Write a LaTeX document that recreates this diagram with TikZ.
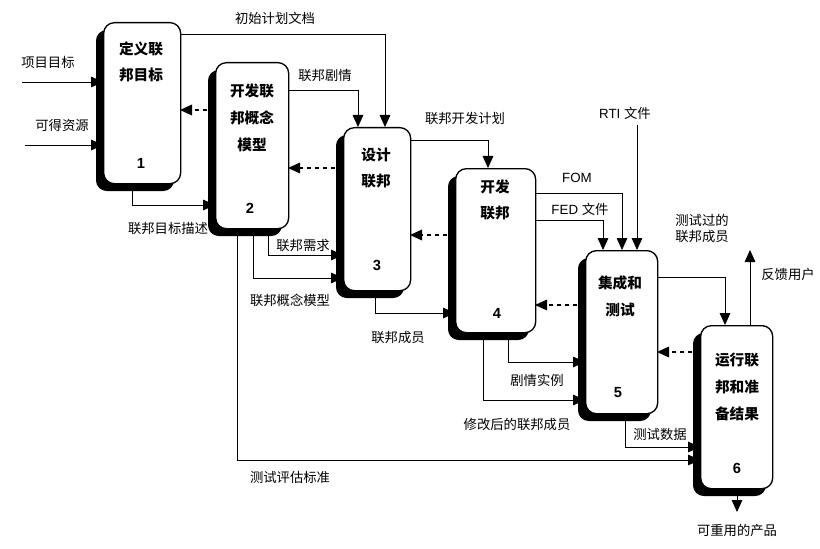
\documentclass[tikz,border=0pt]{standalone}
\usepackage{fontspec}
\setmainfont{Liberation Sans}
\newfontfamily\cjk{Noto Sans CJK SC}
\usetikzlibrary{arrows.meta}
\begin{document}
\begin{tikzpicture}[x=0.75pt,y=-0.75pt,
  box/.style={draw,line width=1pt,rounded corners=8pt,fill=white},
  shad/.style={fill=black,rounded corners=8pt},
  flow/.style={draw,line width=0.6pt,-{Triangle[length=9pt,width=8pt]}},
  back/.style={flow,dashed,line width=0.9pt},
  lab/.style={font=\cjk\fontsize{10}{12}\selectfont,inner sep=1pt},
  title/.style={font=\cjk\bfseries\fontsize{11}{20}\selectfont,align=center},
  num/.style={font=\bfseries\fontsize{11}{12}\selectfont}]
\useasboundingbox (0,0) rectangle (820,549);
% shadows and boxes
\foreach \n/\a/\b/\c/\d in {1/103/22/180/183, 2/215/62/288/228, 3/343/127/410/290, 4/455/168/535/332, 5/585/250/657/413, 6/700/325/772/488}{
  \fill[shad] (\a-7,\b+8) rectangle (\c-6,\d+8);
  \node[box,minimum width={(\c-\a)*0.75pt},minimum height={(\d-\b)*0.75pt},anchor=north west] (b\n) at (\a,\b) {};
}
\node[title] (t1) at (141,62) {定义联\\邦目标};
\node[num] (n1) at (141,163) {1};
\node[title] (t2) at (252,118) {开发联\\邦概念\\模型};
\node[num] (n2) at (250,208) {2};
\node[title] (t3) at (376,168) {设计\\联邦};
\node[num] (n3) at (377,265) {3};
\node[title] (t4) at (495,200) {开发\\联邦};
\node[num] (n4) at (497,313) {4};
\node[title] (t5) at (620,296) {集成和\\测试};
\node[num] (n5) at (618,393) {5};
\node[title] (t6) at (737,387) {运行联\\邦和准\\备结果};
\node[num] (n6) at (737,468) {6};
% inputs
\coordinate (i1) at (22,82);
\coordinate (i2) at (25,145);
\draw[flow] (i1) -- (i1 -| b1.west);
\draw[flow] (i2) -- (i2 -| b1.west);
\node[lab] (l1) at (48,62) {项目目标};
\node[lab] (l2) at (62,125) {可得资源};
% 1 -> 3
\coordinate (c13) at (180,34);
\draw[flow] (c13) -| (385,127);
\node[lab] (l3) at (275,18) {初始计划文档};
\coordinate (c23) at (288,90);
\draw[flow] (c23) -| (358,127);
\node[lab] (l4) at (325,75) {联邦剧情};
% dashed feedback
\draw[back] (215,110) -- (180,110);
\draw[back] (343,168) -- (288,168);
\draw[back] (455,235) -- (410,235);
\draw[back] (585,305) -- (535,305);
\draw[back] (700,352) -- (657,352);
% 1 -> 2
\draw[flow] (132,183) |- (215,205);
\node[lab] (l5) at (168,228) {联邦目标描述};
% 2 -> 3
\draw[flow] (268,228) |- (343,255);
\node[lab] (l6) at (303,245) {联邦需求};
\draw[flow] (253,228) |- (343,278);
\node[lab] (l7) at (290,300) {联邦概念模型};
\draw[flow] (237,228) |- (700,460);
\node[lab] (l8) at (290,477) {测试评估标准};
% 3 -> 4
\draw[flow] (410,140) -| (488,168);
\node[lab] (l9) at (465,118) {联邦开发计划};
\draw[flow] (375,290) |- (455,313);
\node[lab] (l10) at (398,337) {联邦成员};
% 4 -> 5
\draw[flow] (535,193) -| (622,250);
\node[font=\fontsize{10}{12}\selectfont] (l11) at (577,178) {FOM};
\draw[flow] (535,220) -| (603,250);
\node[lab,font=\fontsize{10}{12}\selectfont] (l12) at (580,209) {FED {\cjk 文件}};
\coordinate (rti) at (637,125);
\draw[flow] (rti) -- (637,250);
\node[font=\fontsize{10}{12}\selectfont] (l13) at (625,113) {RTI {\cjk 文件}};
\draw[flow] (508,332) |- (585,362);
\node[lab] (l14) at (537,380) {剧情实例};
\draw[flow] (483,332) |- (585,400);
\node[lab] (l15) at (517,424) {修改后的联邦成员};
% 5 -> 6
\draw[flow] (657,277) -| (725,325);
\node[lab,align=left] (l16) at (702,228) {测试过的\\联邦成员};
\draw[flow] (625,413) |- (700,447);
\node[lab] (l17) at (660,434) {测试数据};
\draw[flow] (750,325) -- (750,250);
\node[lab] (l18) at (788,274) {反馈用户};
\draw[flow] (737,488) -- (737,512);
\node[lab] (l19) at (737,530) {可重用的产品};
\end{tikzpicture}
\end{document}
